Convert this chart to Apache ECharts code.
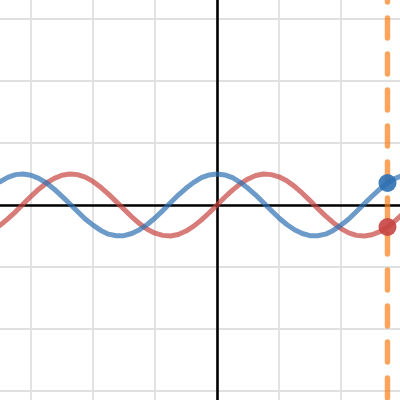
<!DOCTYPE html>
<html>
<head>
<meta charset="utf-8">
<script src="https://cdn.jsdelivr.net/npm/echarts@6/dist/echarts.min.js"></script>
<style>
html,body{margin:0;padding:0;background:#fff;width:400px;height:400px;overflow:hidden;position:relative}
#c{position:absolute;left:-31px;top:-43px;width:434px;height:496px}
</style>
</head>
<body>
<div id="c"></div>
<script>
var xs = [-7,-6.75,-6.5,-6.25,-6,-5.75,-5.5,-5.25,-5,-4.75,-4.5,-4.25,-4,-3.75,-3.5,-3.25,-3,-2.75,-2.5,-2.25,-2,-1.75,-1.5,-1.25,-1,-0.75,-0.5,-0.25,0,0.25,0.5,0.75,1,1.25,1.5,1.75,2,2.25,2.5,2.75,3,3.25,3.5,3.75,4,4.25,4.5,4.75,5,5.25,5.5,5.75,6];
var cosVals = [0.75,0.89,0.98,1.00,0.96,0.86,0.71,0.51,0.28,0.04,-0.21,-0.45,-0.65,-0.82,-0.94,-0.99,-0.99,-0.92,-0.80,-0.63,-0.42,-0.18,0.07,0.32,0.54,0.73,0.88,0.97,1.00,0.97,0.88,0.73,0.54,0.32,0.07,-0.18,-0.42,-0.63,-0.80,-0.92,-0.99,-0.99,-0.94,-0.82,-0.65,-0.45,-0.21,0.04,0.28,0.51,0.71,0.86,0.96];
var sinVals = [-0.66,-0.45,-0.22,0.03,0.28,0.51,0.71,0.86,0.96,1.00,0.98,0.90,0.76,0.57,0.35,0.11,-0.14,-0.38,-0.60,-0.78,-0.91,-0.98,-1.00,-0.95,-0.84,-0.68,-0.48,-0.25,0,0.25,0.48,0.68,0.84,0.95,1.00,0.98,0.91,0.78,0.60,0.38,0.14,-0.11,-0.35,-0.57,-0.76,-0.90,-0.98,-1.00,-0.96,-0.86,-0.71,-0.51,-0.28];
var markerX = 5.5;
var bluePoint = [5.5, 0.71];
var redPoint = [5.5, -0.71];
var dashedLine = [[5.5, 8], [5.5, -8]];

function pairs(a, b) { return a.map(function (v, i) { return [v, b[i]]; }); }

var chart = echarts.init(document.getElementById('c'), null, {renderer: 'canvas'});
var axisCommon = {
  type: 'value', min: -8, max: 8, interval: 2,
  axisLine: {show: true, onZero: true, lineStyle: {color: '#000', width: 2.6}},
  axisTick: {show: false}, axisLabel: {show: false},
  splitLine: {show: true, lineStyle: {color: '#e0e0e0', width: 1.8}}
};
chart.setOption({
  animation: false,
  backgroundColor: '#fff',
  grid: {left: 0, right: 0, top: 0, bottom: 0, containLabel: false},
  xAxis: Object.assign({}, axisCommon, {min: -8, max: 6}),
  yAxis: Object.assign({}, axisCommon),
  series: [
    {type: 'line', data: dashedLine, symbol: 'none', z: 3,
     lineStyle: {color: '#fa7e19', opacity: 0.7, width: 5.5, type: [20, 16], dashOffset: 11, cap: 'round'}},
    {type: 'line', data: pairs(xs, sinVals), symbol: 'none', z: 4,
     lineStyle: {color: '#c74440', opacity: 0.7, width: 5, cap: 'round', join: 'round'}},
    {type: 'line', data: pairs(xs, cosVals), symbol: 'none', z: 5,
     lineStyle: {color: '#2d70b3', opacity: 0.7, width: 5, cap: 'round', join: 'round'}},
    {type: 'scatter', data: [redPoint], symbolSize: 18, z: 6,
     itemStyle: {color: '#c74440', opacity: 0.9}},
    {type: 'scatter', data: [bluePoint], symbolSize: 18, z: 6,
     itemStyle: {color: '#2d70b3', opacity: 0.9}}
  ]
});
</script>
</body>
</html>
